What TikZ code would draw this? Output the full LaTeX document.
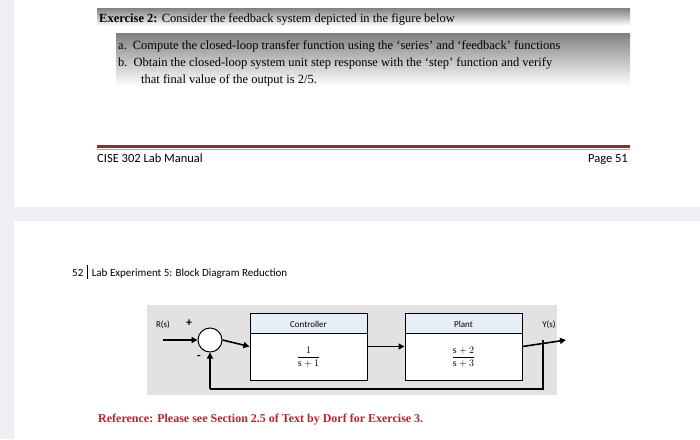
\documentclass[tikz,border=0pt]{standalone}
\usepackage{fontspec}
\setmainfont{Liberation Serif}
\newfontfamily\carlitofont{Carlito}
\usetikzlibrary{arrows.meta}
\definecolor{pagegap}{HTML}{EEEEF3}
\definecolor{shade}{HTML}{DCDCDC}
\definecolor{rulered}{HTML}{8B2E2E}
\definecolor{diag}{HTML}{E2E2E2}
\definecolor{hdr}{HTML}{E6EEF8}
\definecolor{refred}{HTML}{B5252A}
\tikzset{
 blk/.style={draw,line width=1pt,fill=white},
 sig/.style={line width=1.6pt,-{Triangle[length=6pt,width=6pt]}},
 wire/.style={line width=1.6pt},
 tx/.style={anchor=base west,inner sep=0pt,font=\fontsize{12.5}{14}\selectfont},
 sm/.style={inner sep=0pt,font=\carlitofont\fontsize{9}{10}\selectfont},
 frac/.style={inner sep=0pt,font=\rmfamily\fontsize{10}{11}\selectfont,align=center}
}
\begin{document}
\begin{tikzpicture}[x=1pt,y=-1pt]
\useasboundingbox (0,0) rectangle (700,439);
\fill[pagegap] (0,0) rectangle (700,439);
\fill[white] (14,0) rectangle (700,207);
\fill[white] (14,221) rectangle (700,439);
% page 1
\fill[shade] (97,8) rectangle (630,26);
\fill[shade] (116,33) rectangle (630,86);
\node[tx] (ex) at (99,22) {\textbf{Exercise 2:} Consider the feedback system depicted in the figure below};
\node[tx] (ia) at (118,49) {a.\hspace{6pt}Compute the closed-loop transfer function using the `series' and `feedback' functions};
\node[tx] (ib) at (118,66) {b.\hspace{6pt}Obtain the closed-loop system unit step response with the `step' function and verify};
\node[tx] (ic) at (141,83) {that final value of the output is 2/5.};
\fill[rulered] (97,144.5) rectangle (630,147.5);
\fill[rulered!50] (97,148.5) rectangle (630,149.5);
\node[tx,font=\carlitofont\fontsize{12.5}{14}\selectfont] (cise) at (97,162) {CISE 302 Lab Manual};
\node[tx,anchor=base east,font=\carlitofont\fontsize{12.5}{14}\selectfont] (pg) at (628,162) {Page 51};
% page 2
\node[tx,font=\carlitofont\fontsize{11}{13}\selectfont] (hd) at (72,276) {52\hspace{4pt}\rule[-3pt]{0.5pt}{14pt}\hspace{4pt}Lab Experiment 5: Block Diagram Reduction};
\fill[diag] (147,305) rectangle (557,395);
\node[blk,minimum width=117pt,minimum height=67pt] (ctl) at (308.5,346.5) {};
\fill[hdr] (250.5,313.5) rectangle (366.5,333);
\draw[line width=0.8pt] (250,333) -- (367,333);
\draw[blk,fill=none] (250,313) rectangle (367,380);
\node[blk,minimum width=117pt,minimum height=67pt] (pl) at (463.5,346.5) {};
\fill[hdr] (405.5,313.5) rectangle (521.5,333);
\draw[line width=0.8pt] (405,333) -- (522,333);
\draw[blk,fill=none] (405,313) rectangle (522,380);
\node[sm] (cl) at (308.5,324) {Controller};
\node[sm] (pll) at (463.5,324) {Plant};
\node[frac] (cf) at (308.5,357) {$\displaystyle\frac{1}{\mathrm{s}+1}$};
\node[frac] (pf) at (463.5,357) {$\displaystyle\frac{\mathrm{s}+2}{\mathrm{s}+3}$};
\node[circle,draw,line width=1pt,fill=white,minimum size=24pt,inner sep=0pt] (sum) at (210,340) {};
\coordinate (rin) at (163,340);
\coordinate (yout) at (566,340);
\coordinate (br) at (543,340);
\coordinate (fb1) at (543,389);
\coordinate (fb2) at (210,389);
\draw[sig] (rin) -- (sum.west);
\draw[sig] (sum.east) -- (ctl.west);
\draw[sig] (ctl.east) -- (pl.west);
\draw[sig] (pl.east) -- (yout);
\draw[wire] (br) -- (fb1) -- (fb2);
\draw[sig] (fb2) -- (sum.south);
\node[sm] (rs) at (163,325) {R(s)};
\node[sm] (ys) at (549,325) {Y(s)};
\node[sm,font=\carlitofont\bfseries\fontsize{12}{12}\selectfont] (plus) at (189,323) {+};
\node[sm,font=\carlitofont\bfseries\fontsize{12}{12}\selectfont] (minus) at (199,357) {-};
\node[tx,font=\bfseries\fontsize{12}{14}\selectfont,text=refred] (ref) at (98,422) {Reference: Please see Section 2.5 of Text by Dorf for Exercise 3.};
\end{tikzpicture}
\end{document}
